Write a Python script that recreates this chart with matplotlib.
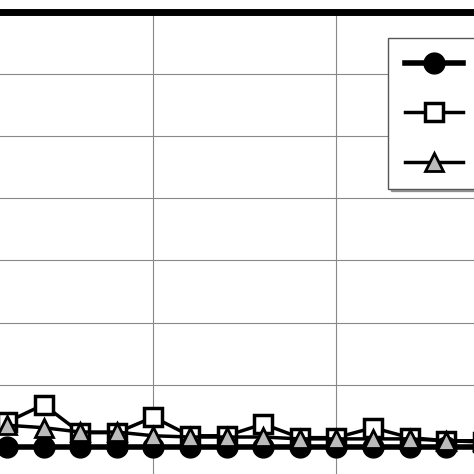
import numpy as np
import matplotlib.pyplot as plt

x = np.arange(1, 15)
circles = [0, 0, 0, 0, 0, 0, 0, 0, 0, 0, 0, 0, 0, 0]
squares = [0.40, 0.68, 0.23, 0.23, 0.48, 0.18, 0.18, 0.37, 0.15, 0.15, 0.31, 0.15, 0.10, 0.08]
triangles = [0.35, 0.31, 0.24, 0.24, 0.18, 0.16, 0.16, 0.16, 0.13, 0.13, 0.13, 0.13, 0.10, 0.10]

fig = plt.figure(figsize=(4.74, 4.74), dpi=100)
ax = fig.add_axes([0, 0, 1, 0.975])

ax.plot(x, circles, '-o', color='black', lw=4, ms=15, mfc='black', mec='black', label=' ', zorder=3)
ax.plot(x, squares, '-s', color='black', lw=2.5, ms=13, mfc='white', mec='black', mew=2.5, label=' ', zorder=2)
ax.plot(x, triangles, '-^', color='black', lw=2.5, ms=13, mfc='#bbbbbb', mec='black', mew=2, label=' ', zorder=4)

ax.set_xlim(0.81, 13.76)
ax.set_ylim(-0.435, 7)
ax.set_xticks([5, 10])
ax.set_yticks(np.arange(0, 8))
ax.grid(True, color='#888888', lw=0.8)
ax.tick_params(length=0, labelbottom=False, labelleft=False)
for s in ['left', 'right', 'bottom']:
    ax.spines[s].set_visible(False)
ax.spines['top'].set_linewidth(5)

leg = ax.legend(loc='upper left', bbox_to_anchor=(388 / 474, 1 - 38 / 474),
                bbox_transform=fig.transFigure, borderaxespad=0, fancybox=False, shadow=True,
                handlelength=3.5, labelspacing=1.9, borderpad=1.0, fontsize=12,
                framealpha=1, edgecolor='#555555')
fig.savefig('out.png', dpi=100)
